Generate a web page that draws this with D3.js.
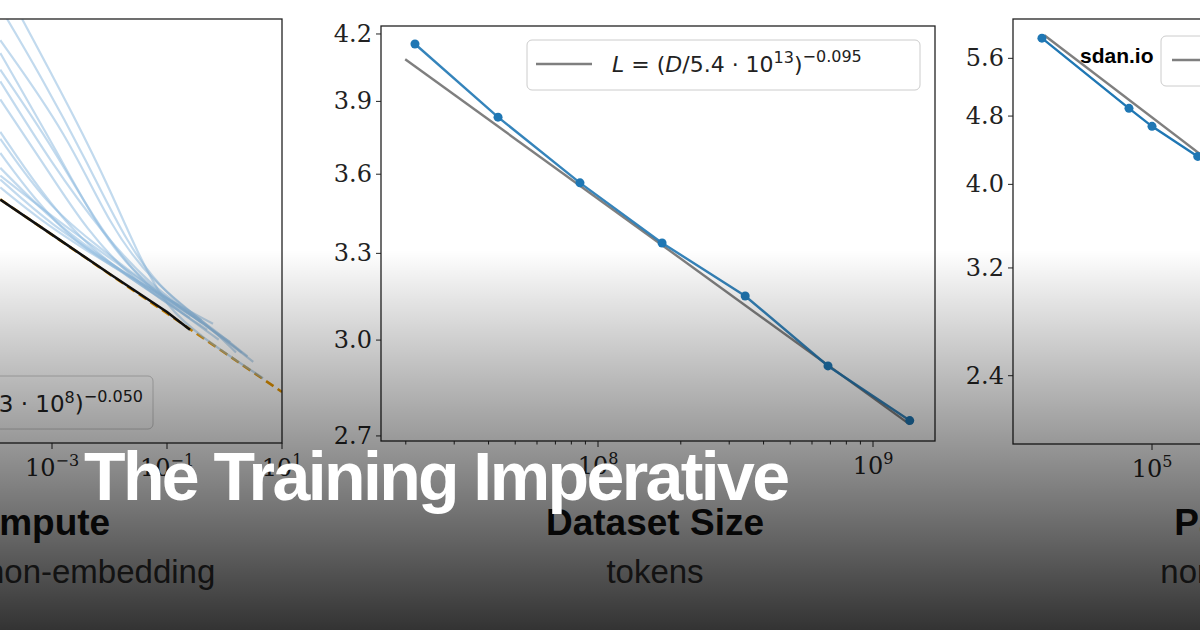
<!DOCTYPE html>
<html>
<head>
<meta charset="utf-8">
<script src="https://cdn.jsdelivr.net/npm/d3@7"></script>
<style>
  html, body { margin: 0; padding: 0; background: #fff; }
  svg { display: block; }
</style>
</head>
<body>
<div id="chart"></div>
<script>
// ---- data ----
// compute panel: learning curves as [log10 C, loss]
const computeCurves = [
  [[-3.52, 6.96], [-2.57, 5.16], [-1.99, 4.22], [-1.47, 3.45], [-1.0, 2.99], [-0.43, 2.75], [0.67, 2.43]],
  [[-3.9, 6.54], [-2.74, 4.97], [-1.99, 3.79], [-1.24, 3.21], [-0.3, 2.85], [0.2, 2.62]],
  [[-3.9, 6.0], [-3.0, 4.8], [-2.3, 3.9], [-1.5, 3.25], [-0.8, 2.96], [-0.1, 2.72]],
  [[-3.9, 5.5], [-3.1, 4.5], [-2.4, 3.75], [-1.6, 3.25], [-0.9, 2.99], [-0.3, 2.80]],
  [[-3.9, 5.0], [-3.2, 4.2], [-2.5, 3.65], [-1.8, 3.32], [-1.0, 3.03], [-0.6, 2.90]],
  [[-3.9, 4.7], [-3.3, 4.1], [-2.6, 3.62], [-1.9, 3.36], [-1.2, 3.10], [-0.5, 2.90]],
  [[-3.9, 4.5], [-3.0, 3.86], [-2.2, 3.49], [-1.5, 3.22], [-0.8, 3.01]],
  [[-3.9, 4.35], [-3.0, 3.80], [-2.0, 3.41], [-1.2, 3.12], [-0.2, 2.85]],
  [[-3.9, 4.25], [-3.2, 3.86], [-2.4, 3.53], [-1.6, 3.26], [-0.7, 2.98], [0.3, 2.62]],
  [[-3.9, 6.3], [-2.9, 4.7], [-2.2, 3.78], [-1.6, 3.32], [-0.9, 3.03], [-0.4, 2.88]],
  [[-3.9, 7.2], [-3.2, 5.9], [-2.4, 4.6], [-1.7, 3.6], [-1.0, 3.09], [-0.2, 2.81], [0.4, 2.59]],
  [[-3.9, 4.9], [-3.1, 4.05], [-2.3, 3.62], [-1.4, 3.22], [-0.6, 2.93], [0.1, 2.70]],
  [[-3.9, 5.8], [-3.0, 4.55], [-2.1, 3.70], [-1.3, 3.20], [-0.5, 2.90], [0.5, 2.55]],
  [[-3.9, 4.4], [-2.8, 3.80], [-1.8, 3.38], [-1.1, 3.10], [-0.4, 2.86]],
];
const computeFrontier = [[-3.9, 4.10], [-3, 3.70], [-2, 3.30], [-1, 2.95], [-0.6, 2.80]];
const computeFit = { c0: 2.3e8, alpha: 0.050, from: -3.9, to: 1 };
const computeTicks = [-3, -1, 1];

// dataset panel
const dataTokens = [2.16e7, 4.33e7, 8.6e7, 1.71e8, 3.43e8, 6.86e8, 1.36e9];
const dataLoss = [4.154, 3.833, 3.566, 3.338, 3.149, 2.916, 2.746];
const dataFit = { d0: 5.4e13, alpha: 0.095, from: 1.99e7, to: 1.36e9 };
const dataYTicks = [2.7, 3.0, 3.3, 3.6, 3.9, 4.2];
const dataXTicks = [8, 9];

// parameters panel
const paramN = [5.25e3, 5.4e4, 1.0e5, 3.4e5];
const paramLoss = [5.91, 4.90, 4.67, 4.31];
const paramFit = { n0: 8.8e13, alpha: 0.076, from: 5.6e3, to: 4e5 };
const paramYTicks = [2.4, 3.2, 4.0, 4.8, 5.6];
const paramXTicks = [5];

const blue = "#1f77b4";
const serif = "'DejaVu Serif', serif";
const sans = "'DejaVu Sans', sans-serif";
const helv = "'Liberation Sans', Arial, sans-serif";

const W = 1200, H = 630;
const svg = d3.select("#chart").append("svg").attr("width", W).attr("height", H);

function frame(g, x0, y0, x1, y1) {
  g.append("rect").attr("x", x0).attr("y", y0).attr("width", x1 - x0).attr("height", y1 - y0)
    .attr("fill", "none").attr("stroke", "#222").attr("stroke-width", 1.3);
}
function powLabel(g, x, y, exp) {
  const t = g.append("text").attr("x", x).attr("y", y).attr("text-anchor", "middle")
    .attr("font-family", serif).attr("font-size", 24).attr("fill", "#222");
  t.append("tspan").text("10");
  t.append("tspan").attr("dy", -10).attr("font-size", 16).text(exp);
}
function yTicks(g, y, ticks, xAxis) {
  ticks.forEach(v => {
    g.append("line").attr("x1", xAxis - 5).attr("x2", xAxis).attr("y1", y(v)).attr("y2", y(v)).attr("stroke", "#222");
    g.append("text").attr("x", xAxis - 9).attr("y", y(v) + 8).attr("text-anchor", "end")
      .attr("font-family", serif).attr("font-size", 24).attr("fill", "#222").text(v.toFixed(1));
  });
}
function xTick(g, xp, yAxis, len) {
  g.append("line").attr("x1", xp).attr("x2", xp).attr("y1", yAxis).attr("y2", yAxis + len).attr("stroke", "#222");
}

// ---- compute panel ----
{
  const x = d3.scaleLog().domain([1e-3, 1e1]).range([52, 282]);
  const y = d3.scaleLog().domain([2.01, 6.96]).range([443, 19]);
  const g = svg.append("g");
  svg.append("clipPath").attr("id", "c1").append("rect")
    .attr("x", -10).attr("y", 19).attr("width", 292).attr("height", 424);
  const gc = g.append("g").attr("clip-path", "url(#c1)");
  const line = d3.line().x(d => x(Math.pow(10, d[0]))).y(d => y(d[1])).curve(d3.curveBasis);
  const fitPts = d3.range(0, 21).map(i => {
    const lc = computeFit.from + (computeFit.to - computeFit.from) * i / 20;
    return [lc, Math.pow(Math.pow(10, lc) / computeFit.c0, -computeFit.alpha)];
  });
  gc.append("path").attr("d", d3.line().x(d => x(Math.pow(10, d[0]))).y(d => y(d[1]))(fitPts))
    .attr("fill", "none").attr("stroke", "#e69500").attr("stroke-width", 2.6).attr("stroke-dasharray", "9,5");
  computeCurves.forEach(c => {
    gc.append("path").attr("d", line(c)).attr("fill", "none")
      .attr("stroke", "#8fbbe0").attr("stroke-opacity", 0.55).attr("stroke-width", 2.2);
  });
  gc.append("path").attr("d", d3.line().x(d => x(Math.pow(10, d[0]))).y(d => y(d[1]))(computeFrontier))
    .attr("fill", "none").attr("stroke", "#111").attr("stroke-width", 2.6);
  frame(g, -10, 19, 282, 443);
  computeTicks.forEach(e => {
    xTick(g, x(Math.pow(10, e)), 443, 6);
    powLabel(g, x(Math.pow(10, e)), 476, e < 0 ? "\u2212" + (-e) : String(e));
  });
  g.append("rect").attr("x", -120).attr("y", 376).attr("width", 273).attr("height", 53).attr("rx", 5)
    .attr("fill", "#fff").attr("fill-opacity", 0.8).attr("stroke", "#ccc");
  const t = g.append("text").attr("x", 143).attr("y", 412).attr("text-anchor", "end")
    .attr("font-family", sans).attr("font-size", 23).attr("fill", "#222");
  t.append("tspan").text("L = (C/2.3 \u00b7 10");
  t.append("tspan").attr("dy", -9).attr("font-size", 16).text("8");
  t.append("tspan").attr("dy", 9).text(")");
  t.append("tspan").attr("dy", -10).attr("font-size", 16).text("\u22120.050");
}

// ---- dataset panel ----
{
  const x = d3.scaleLog().domain([1e8, 1e9]).range([598, 873]);
  const y = d3.scaleLog().domain([2.685, 4.237]).range([441, 26]);
  const g = svg.append("g");
  const fit = d => Math.pow(d / dataFit.d0, -dataFit.alpha);
  g.append("line").attr("x1", x(dataFit.from)).attr("y1", y(fit(dataFit.from)))
    .attr("x2", x(dataFit.to)).attr("y2", y(fit(dataFit.to)))
    .attr("stroke", "#7f7f7f").attr("stroke-width", 2.4);
  const pts = dataTokens.map((d, i) => [d, dataLoss[i]]);
  g.append("path").attr("d", d3.line().x(d => x(d[0])).y(d => y(d[1]))(pts))
    .attr("fill", "none").attr("stroke", blue).attr("stroke-width", 2.4).attr("stroke-opacity", 0.9);
  g.selectAll("circle").data(pts).join("circle")
    .attr("cx", d => x(d[0])).attr("cy", d => y(d[1])).attr("r", 4.5).attr("fill", blue);
  frame(g, 381, 26, 935, 441);
  yTicks(g, y, dataYTicks, 381);
  [7, 8].forEach(e => d3.range(2, 10).forEach(m => {
    const v = m * Math.pow(10, e);
    if (x(v) > 381 && x(v) < 935) xTick(g, x(v), 441, 3.5);
  }));
  dataXTicks.forEach(e => { xTick(g, x(Math.pow(10, e)), 441, 6); powLabel(g, x(Math.pow(10, e)), 474, String(e)); });
  g.append("rect").attr("x", 527).attr("y", 40).attr("width", 393).attr("height", 50).attr("rx", 5)
    .attr("fill", "#fff").attr("stroke", "#ccc");
  g.append("line").attr("x1", 536).attr("x2", 592).attr("y1", 64).attr("y2", 64).attr("stroke", "#7f7f7f").attr("stroke-width", 2.4);
  const t = g.append("text").attr("x", 612).attr("y", 72).attr("font-family", sans).attr("font-size", 22).attr("fill", "#222");
  t.append("tspan").attr("font-style", "italic").text("L");
  t.append("tspan").text(" = (");
  t.append("tspan").attr("font-style", "italic").text("D");
  t.append("tspan").text("/5.4 \u00b7 10");
  t.append("tspan").attr("dy", -9).attr("font-size", 16).text("13");
  t.append("tspan").attr("dy", 9).text(")");
  t.append("tspan").attr("dy", -10).attr("font-size", 16).text("\u22120.095");
}

// ---- parameters panel ----
{
  const x = d3.scaleLog().domain([1e5, 1e6]).range([1152, 1238]);
  const y = d3.scaleLog().domain([2.0, 6.22]).range([444, 19]);
  const g = svg.append("g");
  const fit = n => Math.pow(n / paramFit.n0, -paramFit.alpha);
  g.append("line").attr("x1", x(paramFit.from)).attr("y1", y(fit(paramFit.from)))
    .attr("x2", x(paramFit.to)).attr("y2", y(fit(paramFit.to)))
    .attr("stroke", "#7f7f7f").attr("stroke-width", 2.4);
  const pts = paramN.map((d, i) => [d, paramLoss[i]]);
  g.append("path").attr("d", d3.line().x(d => x(d[0])).y(d => y(d[1]))(pts))
    .attr("fill", "none").attr("stroke", blue).attr("stroke-width", 2.4);
  g.selectAll("circle").data(pts).join("circle")
    .attr("cx", d => x(d[0])).attr("cy", d => y(d[1])).attr("r", 4.5).attr("fill", blue);
  frame(g, 1013, 19, 1260, 444);
  yTicks(g, y, paramYTicks, 1013);
  paramXTicks.forEach(e => { xTick(g, x(Math.pow(10, e)), 444, 6); powLabel(g, x(Math.pow(10, e)), 477, String(e)); });
  g.append("rect").attr("x", 1161).attr("y", 36).attr("width", 100).attr("height", 50).attr("rx", 5)
    .attr("fill", "#fff").attr("stroke", "#ccc");
  g.append("line").attr("x1", 1172).attr("x2", 1228).attr("y1", 60).attr("y2", 60).attr("stroke", "#7f7f7f").attr("stroke-width", 2.4);
}

// ---- axis captions (under the shade) ----
const caps = [
  { x: 30, title: "Compute", sub: "PF-days, non-embedding" },
  { x: 655, title: "Dataset Size", sub: "tokens" },
  { x: 1275, title: "Parameters", sub: "non-embedding" },
];
caps.forEach(c => {
  svg.append("text").attr("x", c.x).attr("y", 535).attr("text-anchor", "middle")
    .attr("font-family", helv).attr("font-weight", 700)
    .attr("font-size", 37).attr("fill", "#111").text(c.title);
  svg.append("text").attr("x", c.x).attr("y", 583).attr("text-anchor", "middle")
    .attr("font-family", helv)
    .attr("font-size", 33).attr("fill", "#3a3a3a").text(c.sub);
});

// ---- dark shade ----
const grad = svg.append("defs").append("linearGradient").attr("id", "shade")
  .attr("x1", 0).attr("y1", 0).attr("x2", 0).attr("y2", 1);
grad.append("stop").attr("offset", "0%").attr("stop-color", "#000").attr("stop-opacity", 0);
grad.append("stop").attr("offset", "100%").attr("stop-color", "#000").attr("stop-opacity", 0.8);
svg.append("rect").attr("x", 0).attr("y", 250).attr("width", W).attr("height", H - 250).attr("fill", "url(#shade)");

svg.append("text").attr("x", 84).attr("y", 500)
  .attr("font-family", helv).attr("font-weight", 700)
  .attr("font-size", 68).attr("letter-spacing", -2.6).attr("fill", "#fff").text("The Training Imperative");
svg.append("text").attr("x", 1080).attr("y", 63)
  .attr("font-family", helv).attr("font-weight", 700)
  .attr("font-size", 21).attr("fill", "#000").text("sdan.io");
</script>
</body>
</html>
